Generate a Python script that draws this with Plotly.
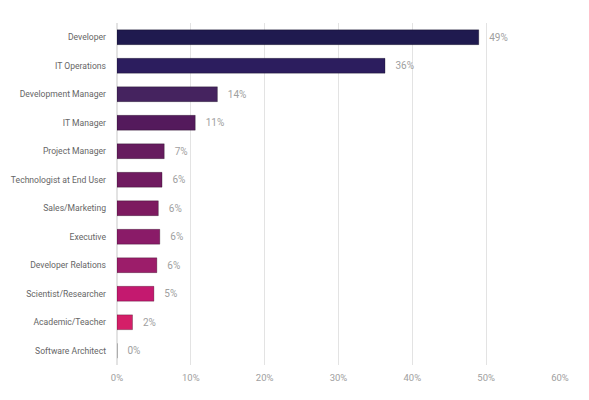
import plotly.graph_objects as go

roles = [
    "Developer", "IT Operations", "Development Manager", "IT Manager",
    "Project Manager", "Technologist at End User", "Sales/Marketing",
    "Executive", "Developer Relations", "Scientist/Researcher",
    "Academic/Teacher", "Software Architect",
]
shares = [49.0, 36.3, 13.6, 10.6, 6.4, 6.1, 5.6, 5.8, 5.4, 5.0, 2.1, 0.0]
share_labels = ["49%", "36%", "14%", "11%", "7%", "6%", "6%", "6%", "6%", "5%", "2%", "0%"]
bar_colors = [
    "#1f1a4f", "#2c1d5e", "#45235f", "#541a5c", "#661c5e", "#701b60",
    "#7d1a60", "#8a1b68", "#9c1d6a", "#c4196f", "#d41f68", "#d41f68",
]
x_ticks = [0, 10, 20, 30, 40, 50, 60]

fig = go.Figure(go.Bar(
    x=shares,
    y=roles,
    orientation="h",
    marker=dict(color=bar_colors, line=dict(color="rgba(0,0,0,0.25)", width=1)),
    text=share_labels,
    texttemplate="   %{text}",
    textposition="outside",
    textfont=dict(color="#a0a0a0", size=10),
    cliponaxis=False,
))

fig.update_yaxes(
    autorange="reversed",
    tickfont=dict(color="#666666", size=8.6),
    ticks="",
    ticklabelstandoff=10,
    showgrid=False,
    automargin=False,
)
fig.update_xaxes(
    range=[0, 60],
    tickvals=x_ticks,
    ticktext=[f"{v}%" for v in x_ticks],
    tickfont=dict(color="#a0a0a0", size=9.5),
    showgrid=True,
    gridcolor="#e3e3e3",
    gridwidth=1,
    zeroline=True,
    zerolinecolor="#e3e3e3",
    ticks="",
    ticklabelstandoff=5,
    automargin=False,
)
fig.update_layout(
    width=589,
    height=400,
    margin=dict(l=109, r=37, t=15, b=43),
    bargap=0.48,
    plot_bgcolor="white",
    paper_bgcolor="white",
    font=dict(family="Roboto, sans-serif"),
    showlegend=False,
)

fig.write_html("out.html")
